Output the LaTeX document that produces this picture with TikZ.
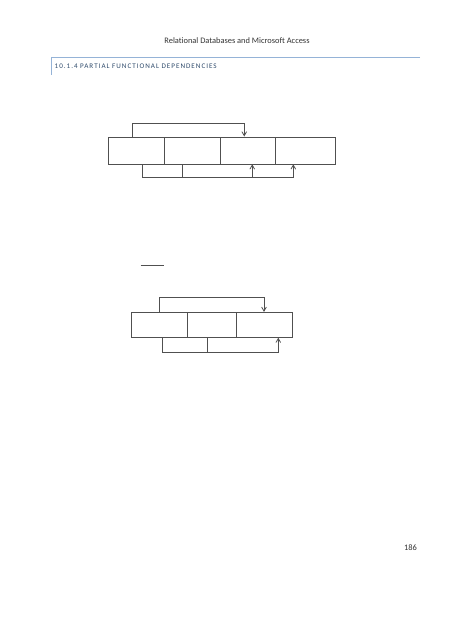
\documentclass[tikz,border=0pt]{standalone}
\usepackage{fontspec}
\setmainfont{Carlito}[RawFeature=-liga]
\usepackage{tikz}
\usetikzlibrary{arrows}

\definecolor{rulecol}{HTML}{95B3D7}
\definecolor{headcol}{HTML}{2E4A6B}
\definecolor{linecol}{HTML}{505050}

\tikzset{
  attr/.style={draw=linecol, line width=0.8pt, minimum height=27pt, inner sep=0pt, anchor=center},
  dep/.style={draw=linecol, line width=0.8pt}
}

\begin{document}
\begin{tikzpicture}[x=1pt,y=1pt]
\useasboundingbox[fill=white] (0,0) rectangle (474,-632);

\node[anchor=center, text=black!80, font=\fontsize{8.4}{10}\selectfont] (title) at (237,-41)
{Relational Databases and Microsoft Access};

\node[anchor=west, inner sep=0pt, text=headcol, font=\fontsize{7.1}{8}\selectfont\addfontfeature{LetterSpace=14}] (sect) at (54.5,-66.5)
{10.1.4 PARTIAL FUNCTIONAL DEPENDENCIES};
\coordinate (rtop) at (420,-57.5);
\coordinate (rcorner) at (51.7,-57.5);
\coordinate (rbot) at (51.7,-74.5);
\draw[rulecol, line width=0.9pt] (rtop) -- (rcorner) -- (rbot);

% first relation
\node[attr, minimum width=56pt] (a1) at (136.3,-150.4) {};
\node[attr, minimum width=55.7pt] (a2) at (192.15,-150.4) {};
\node[attr, minimum width=55.7pt] (a3) at (247.85,-150.4) {};
\node[attr, minimum width=60pt] (a4) at (305.7,-150.4) {};

\draw[dep,->,>=angle 60] ([xshift=-4pt]a1.north) -- ++(0,13.5) -| ([xshift=-3.6pt]a3.north);

\draw[dep,->,>=angle 60] ([xshift=6pt]a1.south) -- ++(0,-12.8) -| ([xshift=-12.4pt]a4.south);

\draw[dep,->,>=angle 60] ([xshift=-9.5pt]a2.south) -- ++(0,-12.8) -| ([xshift=4.4pt]a3.south);

% blank line
\coordinate (u1) at (140.7,-265.3);
\coordinate (u2) at (164,-265.3);
\draw[dep] (u1) -- (u2);

% second relation
\node[attr, minimum width=55.6pt, minimum height=25pt] (b1) at (159.5,-324.8) {};
\node[attr, minimum width=49pt, minimum height=25pt] (b2) at (211.8,-324.8) {};
\node[attr, minimum width=56pt, minimum height=25pt] (b3) at (264.3,-324.8) {};

\draw[dep,->,>=angle 60] ([xshift=-0.2pt]b1.north) -- ++(0,14.6) -| ([xshift=-0.3pt]b3.north);

\draw[dep,->,>=angle 60] ([xshift=3.2pt]b1.south) -- ++(0,-14.4) -| ([xshift=14pt]b3.south);

\draw[dep] ([xshift=-4.1pt]b2.south) -- ++(0,-14.4);

\node[anchor=center, text=black!80, font=\fontsize{8.4}{10}\selectfont] (page) at (410.5,-548)
{186};
\end{tikzpicture}
\end{document}
